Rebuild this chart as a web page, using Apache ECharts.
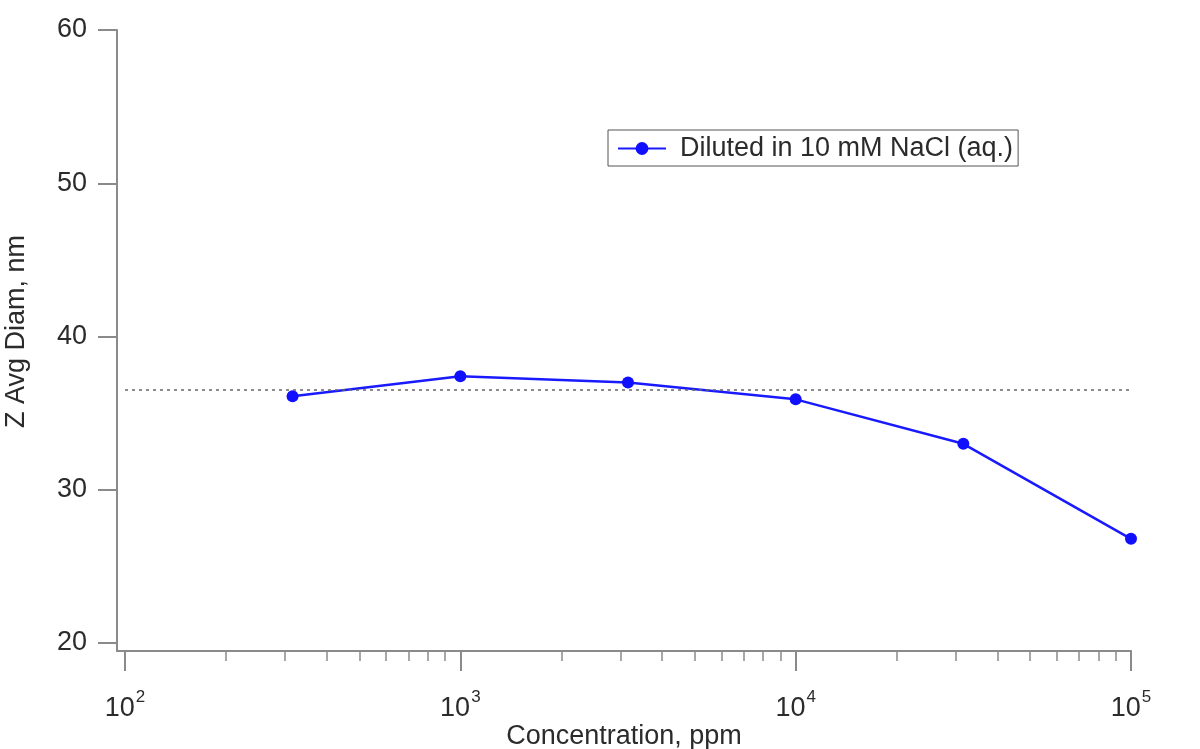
<!DOCTYPE html>
<html>
<head>
<meta charset="utf-8">
<script src="https://cdn.jsdelivr.net/npm/echarts@6/dist/echarts.min.js"></script>
<style>
  html, body { margin: 0; padding: 0; background: #fff; }
  #chart { width: 1200px; height: 749px; }
</style>
</head>
<body>
<div id="chart"></div>
<script>
// concentration (ppm) and Z average diameter (nm)
var concentration = [316, 1000, 3162, 10000, 31623, 100000];
var zAvgDiam = [36.1, 37.4, 37.0, 35.9, 33.0, 26.8];
var refLevel = 36.5;

var xMajorTicks = [100, 1000, 10000, 100000];
var xMinorTicks = [200, 300, 400, 500, 600, 700, 800, 900,
                   2000, 3000, 4000, 5000, 6000, 7000, 8000, 9000,
                   20000, 30000, 40000, 50000, 60000, 70000, 80000, 90000];
var yTicks = [20, 30, 40, 50, 60];

var axisColor = '#8a8a8a';
var textColor = '#2b2b2b';
var font = 'Liberation Sans, Arial, sans-serif';

var myChart = echarts.init(document.getElementById('chart'));

var option = {
    animation: false,
    grid: { left: 117, right: 69, top: 30, bottom: 98, containLabel: false, outerBoundsMode: 'none' },
    legend: {
        left: 608,
        top: 130,
        padding: [5, 5, 4, 9],
        itemWidth: 48,
        itemHeight: 16,
        borderColor: '#555',
        borderWidth: 1,
        textStyle: { fontFamily: font, fontSize: 27, color: textColor, padding: [0, 0, 0, 9] },
        data: ['Diluted in 10 mM NaCl (aq.)']
    },
    xAxis: [
        {
            type: 'log',
            min: 94.65,
            max: 100000,
            name: 'Concentration, ppm',
            nameLocation: 'middle',
            nameGap: 72,
            nameMoveOverlap: false,
            nameTextStyle: { fontFamily: font, fontSize: 27, color: textColor },
            axisLine: { lineStyle: { color: axisColor, width: 2 } },
            axisTick: { customValues: xMajorTicks, length: 20, lineStyle: { color: axisColor, width: 2 } },
            axisLabel: {
                customValues: xMajorTicks,
                margin: 38,
                formatter: function (v) {
                    return '{b|10}{s|' + Math.round(Math.log10(v)) + '}';
                },
                rich: {
                    b: { fontFamily: font, fontSize: 27, color: textColor },
                    s: { fontFamily: font, fontSize: 17, color: textColor, padding: [0, 0, 22, 1] }
                }
            },
            splitLine: { show: false }
        },
        {
            type: 'log',
            min: 94.65,
            max: 100000,
            position: 'bottom',
            axisLine: { show: false },
            axisTick: { customValues: xMinorTicks, length: 10, lineStyle: { color: axisColor, width: 1.5 } },
            axisLabel: { show: false },
            splitLine: { show: false }
        }
    ],
    yAxis: {
        type: 'value',
        min: 19.48,
        max: 60,
        name: 'Z Avg Diam, nm',
        nameLocation: 'middle',
        nameGap: 87,
        nameMoveOverlap: false,
        nameTextStyle: { fontFamily: font, fontSize: 27, color: textColor, padding: [0, 0, 0, 18] },
        axisLine: { show: true, lineStyle: { color: axisColor, width: 2 } },
        axisTick: { show: true, customValues: yTicks, length: 19, lineStyle: { color: axisColor, width: 2 } },
        axisLabel: { customValues: yTicks, margin: 30, fontFamily: font, fontSize: 27, color: textColor },
        splitLine: { show: false }
    },
    series: [
        {
            name: 'Diluted in 10 mM NaCl (aq.)',
            type: 'line',
            xAxisIndex: 0,
            data: concentration.map(function (c, i) { return [c, zAvgDiam[i]]; }),
            symbol: 'circle',
            symbolSize: 12,
            itemStyle: { color: '#1010ff' },
            lineStyle: { color: '#1a1aff', width: 2.5 },
            markLine: {
                silent: true,
                symbol: 'none',
                label: { show: false },
                lineStyle: { color: '#666', type: [3, 4], width: 1.5 },
                data: [[{ coord: [100, refLevel] }, { coord: [100000, refLevel] }]]
            }
        }
    ]
};

myChart.setOption(option);
</script>
</body>
</html>
